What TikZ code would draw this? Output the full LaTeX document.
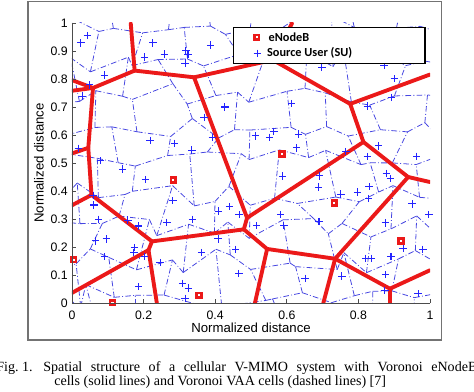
\documentclass[tikz,border=0pt]{standalone}
\usepackage{fontspec}
\setmainfont{Liberation Serif}
\newfontfamily\axisfont{Liberation Sans}
\newfontfamily\legendfont{Carlito}
\definecolor{cellred}{RGB}{235,25,25}
\definecolor{vaablue}{RGB}{70,70,225}
\definecolor{subblue}{RGB}{35,35,255}

\begin{document}
\begin{tikzpicture}[x=7.16cm,y=5.6cm]
\tikzset{
  enb/.style={cellred, line width=2.2pt, line cap=round},
  vaa/.style={vaablue, line width=0.45pt, dash pattern=on 3.2pt off 1.3pt on 0.5pt off 1.3pt},
  enbmark/.style={draw=cellred, line width=1.5pt, fill=white, minimum size=2.7pt, inner sep=0pt},
  sumark/.style={draw=subblue, line width=0.6pt, mark size=2.1pt, mark options={draw=subblue, solid}},
  axisline/.style={black!70, line width=0.5pt},
  ticklabel/.style={font=\axisfont\fontsize{7}{8}\selectfont, inner sep=0pt},
  axislabel/.style={font=\axisfont\fontsize{7.5}{9}\selectfont, inner sep=0pt},
  legendtext/.style={font=\legendfont\bfseries\fontsize{7}{8}\selectfont, anchor=west, inner sep=0pt},
  captext/.style={font=\fontsize{8}{9.6}\selectfont, inner sep=0pt, anchor=base west}
}

\useasboundingbox (-0.2011,-0.3143) rectangle (1.1229,1.0821);

% Figure frame
\draw[black!55, line width=0.9pt] (-0.1221,-0.1321) rectangle (1.0321,1.0768);

% Voronoi vertices of the eNodeB cells
\coordinate (t1) at (0.164,1.0);
\coordinate (a) at (0.175,0.830);
\coordinate (b) at (0.0587,0.768);
\coordinate (bl1) at (0,0.796);
\coordinate (bl2) at (0,0.758);
\coordinate (c) at (0.341,0.806);
\coordinate (e) at (0.561,0.868);
\coordinate (t2) at (0.615,1.0);
\coordinate (d) at (0.777,0.711);
\coordinate (dr) at (1.0,0.816);
\coordinate (f) at (0.814,0.575);
\coordinate (g) at (0.939,0.450);
\coordinate (gr) at (1.0,0.432);
\coordinate (k) at (0.489,0.304);
\coordinate (l) at (0.480,0.263);
\coordinate (m) at (0.545,0.193);
\coordinate (h) at (0.735,0.158);
\coordinate (n) at (0.888,0.051);
\coordinate (nr) at (1.0,0.117);
\coordinate (nb) at (0.888,0);
\coordinate (hb) at (0.702,0);
\coordinate (mb) at (0.511,0);
\coordinate (r) at (0.0455,0.554);
\coordinate (rl) at (0,0.534);
\coordinate (p) at (0.0545,0.386);
\coordinate (pl) at (0,0.349);
\coordinate (j) at (0.2235,0.220);
\coordinate (q) at (0.2137,0.189);
\coordinate (ql) at (0,0.036);
\coordinate (qb) at (0.237,0);

\begin{scope}
\clip (0,0) rectangle (1,1);

% VAA cells (dashed)
\pgfmathsetseed{2718}
\foreach \i in {0,...,17}
  \foreach \j in {0,...,10}
    \coordinate (v\i-\j) at ({0.065*(\i-1)+0.028*rand}, {0.12*(\j-1)+0.03+0.045*rand});
\foreach \i in {0,...,16}
  \foreach \j in {0,...,10} {
    \pgfmathtruncatemacro\ii{\i+1}
    \draw[vaa] (v\i-\j) -- (v\ii-\j);
  }
\foreach \i in {0,...,17}
  \foreach \j in {0,...,9} {
    \pgfmathtruncatemacro\jj{\j+1}
    \pgfmathtruncatemacro\pty{mod(\i+\j,2)}
    \ifnum\pty=0 \draw[vaa] (v\i-\j) -- (v\i-\jj); \fi
  }

% eNodeB cells (solid)
\draw[enb] (t1) -- (a);
\draw[enb] (a) -- (b);
\draw[enb] (b) -- (bl1);
\draw[enb] (b) -- (bl2);
\draw[enb] (a) -- (c);
\draw[enb] (c) -- (e);
\draw[enb] (e) -- (t2);
\draw[enb] (e) -- (d);
\draw[enb] (d) -- (dr);
\draw[enb] (d) -- (f);
\draw[enb] (f) -- (g);
\draw[enb] (g) -- (gr);
\draw[enb] (f) -- (k);
\draw[enb] (c) -- (k);
\draw[enb] (k) -- (l);
\draw[enb] (l) -- (j);
\draw[enb] (l) -- (m);
\draw[enb] (m) -- (mb);
\draw[enb] (m) -- (h);
\draw[enb] (h) -- (hb);
\draw[enb] (h) -- (g);
\draw[enb] (h) -- (n);
\draw[enb] (n) -- (nr);
\draw[enb] (n) -- (nb);
\draw[enb] (b) -- (r);
\draw[enb] (r) -- (rl);
\draw[enb] (r) -- (p);
\draw[enb] (p) -- (pl);
\draw[enb] (p) -- (j);
\draw[enb] (j) -- (q);
\draw[enb] (q) -- (ql);
\draw[enb] (q) -- (qb);
\end{scope}

% Source users
\draw[sumark] plot[only marks, mark=+] coordinates {
  (0.043,0.955) (0.025,0.929) (0.226,0.929) (0.387,0.921) (0.203,0.878)
  (0.258,0.889) (0.318,0.902) (0.324,0.889) (0.316,0.857) (0.090,0.814)
  (0.049,0.779) (0.029,0.739) (0.427,0.700) (0.369,0.663) (0.392,0.592)
  (0.218,0.581) (0.286,0.570) (0.335,0.546) (0.018,0.552) (0.080,0.508)
  (0.141,0.478) (0.205,0.441) (0.059,0.385) (0.061,0.350) (0.074,0.299)
  (0.066,0.222) (0.096,0.229) (0.090,0.166) (0.156,0.296) (0.185,0.275)
  (0.175,0.198) (0.173,0.180) (0.203,0.165) (0.246,0.144) (0.186,0.058)
  (0.282,0.365) (0.265,0.288) (0.336,0.299) (0.309,0.070) (0.325,0.053)
  (0.316,0.017) (0.362,0.180) (0.409,0.328) (0.440,0.344) (0.467,0.315)
  (0.408,0.229) (0.457,0.192) (0.466,0.105) (0.698,0.842) (0.872,0.848)
  (0.900,0.801) (0.892,0.735) (0.825,0.703) (0.613,0.712) (0.512,0.597)
  (0.552,0.592) (0.564,0.613) (0.633,0.603) (0.627,0.554) (0.588,0.453)
  (0.856,0.561) (0.825,0.523) (0.963,0.524) (0.765,0.541) (0.878,0.463)
  (0.889,0.444) (0.691,0.454) (0.689,0.414) (0.751,0.389) (0.798,0.396)
  (0.830,0.415) (0.829,0.373) (0.950,0.354) (0.997,0.315) (0.875,0.286)
  (0.516,0.276) (0.583,0.315) (0.592,0.276) (0.690,0.291) (0.820,0.160)
  (0.837,0.160) (0.891,0.166) (0.925,0.194) (0.980,0.192) (0.875,0.101)
  (0.651,0.088) (0.754,0.096) (0.967,0.033) (0.874,0.045)};

% eNodeBs
\foreach \pos [count=\k] in {(0.283,0.439),(0.587,0.532),(0.733,0.357),(0.919,0.221),
                             (0.005,0.155),(0.113,0.001),(0.355,0.0275)}
  \node[enbmark] (enb\k) at \pos {};

% Axes
\draw[axisline] (0,1) -- (0,0) -- (1,0);
\foreach \t [count=\k] in {0,0.1,0.2,0.3,0.4,0.5,0.6,0.7,0.8,0.9,1} {
  \draw[axisline] (0,\t) -- ++(2.5pt,0);
  \node[ticklabel, anchor=east] (ytick\k) at (-0.0112,\t) {\t};
}
\foreach \t [count=\k] in {0,0.2,0.4,0.6,0.8,1} {
  \draw[axisline] (\t,0) -- ++(0,2.5pt);
  \node[ticklabel] (xtick\k) at (\t,-0.0429) {\t};
}
\node[axislabel] (xlab) at (0.5,-0.0893) {Normalized distance};
\node[axislabel, rotate=90] (ylab) at (-0.0922,0.5) {Normalized distance};

% Legend
\draw[black, line width=0.7pt, fill=white] (0.4506,0.8561) rectangle (0.9860,0.9846);
\node[enbmark] (legsq) at (0.5159,0.9489) {};
\node[legendtext] (legenb) at (0.5483,0.9489) {eNodeB};
\draw[sumark] plot[only marks, mark=+] coordinates {(0.5176,0.8918)};
\node[legendtext] (legsu) at (0.5439,0.8918) {Source User (SU)};

% Caption
\node[captext, anchor=base east] (figlabel) at (-0.1089,-0.2429) {Fig.~1.};
\node[captext] (capline1) at (-0.0810,-0.2429)
  {\makebox[247pt][s]{Spatial structure of a cellular V-MIMO system with Voronoi eNodeB}};
\node[captext] (capline2) at (-0.0503,-0.2964)
  {cells (solid lines) and Voronoi VAA cells (dashed lines) [7]};

\end{tikzpicture}
\end{document}
